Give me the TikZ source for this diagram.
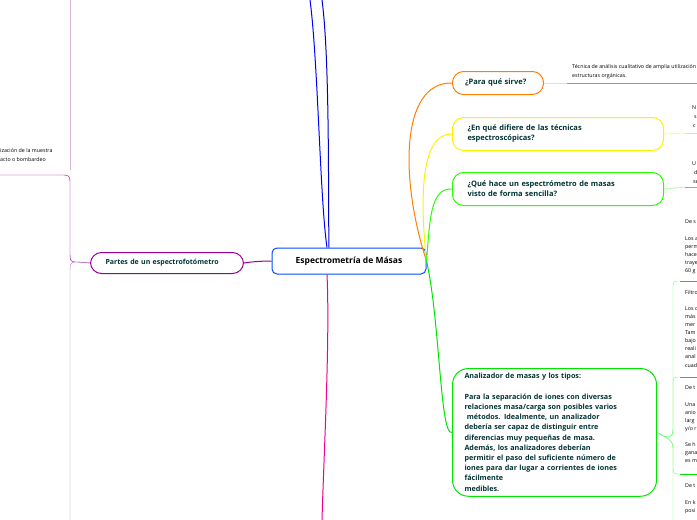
\documentclass[tikz,border=0pt]{standalone}
\usepackage{fontspec}
\setmainfont{Open Sans}
\begin{document}
\begin{tikzpicture}[x=1pt,y=-1pt,
  topic/.style={draw,line width=1pt,rounded corners=11pt,font=\bfseries\fontsize{7.5}{10}\selectfont,text=teal!40!black,align=left,inner xsep=15pt,inner ysep=5pt,anchor=north west},
  small/.style={font=\fontsize{5.3}{8.1}\selectfont,anchor=north west,inner sep=0pt,align=left},
  lk/.style={line width=1pt}]
\useasboundingbox (0,0) rectangle (697,520);
\begin{scope}
\clip (0,0) rectangle (697,520);
\node[draw=blue!70!cyan,line width=1pt,rounded corners=5pt,minimum width=154pt,minimum height=26pt,font=\bfseries\fontsize{8.5}{10}\selectfont] (c) at (349,261) {Espectrometría de Másas};
\coordinate (u1) at (322,0); \coordinate (u2) at (310,0); \coordinate (d1) at (322,520);
\draw[lk,blue!80!black] (c.north) ++(-20,0) .. controls (328,200) and (330,60) .. (u1);
\draw[lk,blue] (c.north) ++(-22,0) .. controls (320,200) and (318,60) .. (u2);
\draw[lk,magenta] (c.south) ++(-22,0) .. controls (330,340) and (324,450) .. (d1);
\node[topic,draw=orange,text width=66pt,inner xsep=12.5pt,minimum height=23pt] (n1) at (452,71) {¿Para qué sirve?};
\node[topic,draw=yellow,text width=181pt,minimum height=33pt] (n2) at (452,117) {¿En qué difiere de las técnicas\\espectroscópicas?};
\node[topic,draw=green!80!lime,text width=181pt,minimum height=33pt] (n3) at (452,172) {¿Qué hace un espectrómetro de masas\\visto de forma sencilla?};
\node[topic,draw=green!90!black,rounded corners=16pt,text width=180pt,inner xsep=12pt,inner ysep=5pt,font=\bfseries\fontsize{7.2}{10.2}\selectfont] (n4) at (452,368) {Analizador de masas y los tipos:\\[10.2pt]Para la separación de iones con diversas\\relaciones masa/carga son posibles varios\\\ métodos. Idealmente, un analizador\\debería ser capaz de distinguir entre\\diferencias muy pequeñas de masa.\\Además, los analizadores deberían\\permitir el paso del suficiente número de\\iones para dar lugar a corrientes de iones\\fácilmente\\medibles.};
\draw[lk,orange] (c.east) .. controls (400,180) and (400,82) .. (n1.west);
\draw[lk,yellow] (c.east) .. controls (420,200) and (420,133) .. (n2.west);
\draw[lk,green!80!lime] (c.east) .. controls (430,220) and (430,188) .. (n3.west);
\draw[lk,green!90!black] (c.east) .. controls (440,320) and (440,437) .. (n4.west);
\coordinate (e1) at (697,83); \coordinate (e2) at (697,133); \coordinate (e3) at (697,187);
\draw[lk,orange!30] (n1.east) -- (567,83); \draw[lk,orange] (567,83) -- (e1);
\draw[lk,yellow!40] (n2.east) -- (685,133); \draw[lk,yellow] (685,133) -- (e2);
\draw[lk,green!30] (n3.east) -- (685,187); \draw[lk,green!80!lime] (685,187) -- (e3);
\node[small,anchor=west] at (572,67) {Técnica de análisis cualitativo de amplia utilización en la determinación de};
\node[small,anchor=west] at (572,76) {estructuras orgánicas.};
\node[small,anchor=west] at (692,108) {N}; \node[small,anchor=west] at (694,117) {s}; \node[small,anchor=west] at (693,126) {c};
\node[small,anchor=west] at (692,164) {U}; \node[small,anchor=west] at (694,173) {d}; \node[small,anchor=west] at (693,182) {se};
\foreach \y in {281,377,474,540}{\draw[green!60] (n4.east) .. controls (668,439) and (673,439) .. (673,{\y<439?439-10:439+10}) -- (673,{\y<439?\y+8:\y-8}) .. controls (673,\y) .. (680,\y);
  \draw[lk,green!90!black] (680,\y) -- (697,\y);}
\node[small] at (685,220) {De s\\[8pt]Los a\\perm\\hace\\traye\\60 g};
\node[small] at (685,290) {Filtro\\[8pt]Los c\\más\\ mer\\Tam\\bajo\\reali\\anal\\cuad};
\node[small] at (685,386) {De t\\[8pt]Una\\anio\\larg\\y/o r\\[8pt]Se h\\gana\\es m};
\node[small] at (685,484) {De t\\[8pt]En k\\posi};
\node[topic,draw=violet!80!magenta,text width=123pt,minimum height=21pt,font=\bfseries\fontsize{7}{9}\selectfont,inner ysep=4pt] (n5) at (90,252) {Partes de un espectrofotómetro};
\draw[lk,violet!80!magenta] (c.west) .. controls (260,261) and (250,262) .. (n5.east);
\coordinate (l1) at (0,175); \coordinate (l2) at (70,520);
\draw[violet!80!magenta] (n5.west) -- (78,262) .. controls (70,262) .. (70,250) -- (70,185) .. controls (70,175) .. (60,175) -- (l1);
\draw[violet!50] (n5.west) -- (78,262) .. controls (70,262) .. (70,274) -- (l2);
\draw[violet!30] (70,0) -- (70,170);
\node[small,anchor=west] at (0,150) {ización de la muestra};
\node[small,anchor=west] at (0,160) {acto o bombardeo};
\end{scope}
\end{tikzpicture}
\end{document}
